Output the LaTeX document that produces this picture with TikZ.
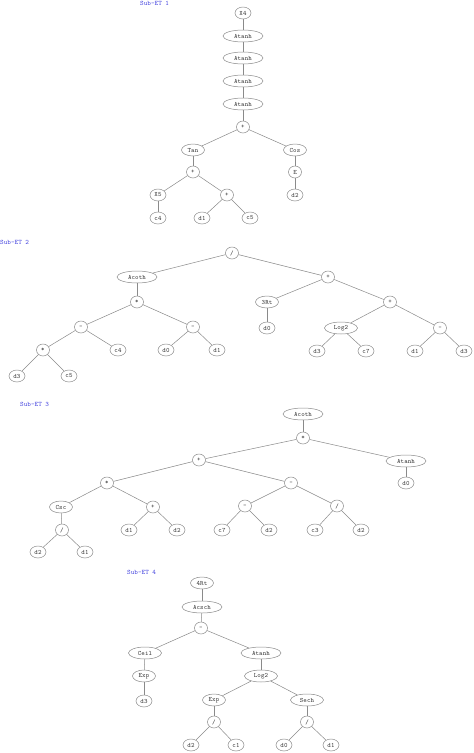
\documentclass[tikz,border=0pt]{standalone}
\usepackage{fontspec}
\usetikzlibrary{shapes.geometric}
\definecolor{edgec}{HTML}{8A8A8A}
\definecolor{txtc}{HTML}{3A3A3A}
\definecolor{labc}{HTML}{4A4AE0}
\tikzset{
  nd/.style={ellipse, draw=edgec, line width=0.5pt, inner sep=0pt, minimum height=12pt, text=txtc,
             font=\ttfamily\fontsize{6.6}{7}\selectfont},
  n1/.style={nd, minimum width=13pt},
  n2/.style={nd, minimum width=16pt},
  n3/.style={nd, minimum width=23pt},
  n4/.style={nd, minimum width=33pt},
  n5/.style={nd, minimum width=40pt},
  lab/.style={text=labc, font=\ttfamily\fontsize{6.8}{7}\selectfont, inner sep=0pt, anchor=west},
  ed/.style={draw=edgec, line width=0.5pt}
}
\begin{document}
\begin{tikzpicture}[x=1pt,y=-1pt]
\useasboundingbox[fill=white] (0,0) rectangle (474,753);
% ---------- Sub-ET 1
\node[lab] (l1) at (140,3) {Sub-ET 1};
\node[n2] (a0) at (243,13) {X4};
\node[n5] (a1) at (243,36) {Atanh};
\node[n5] (a2) at (243,58) {Atanh};
\node[n5] (a3) at (243,81) {Atanh};
\node[n5] (a4) at (243,104) {Atanh};
\node[n1] (a5) at (243,127) {+};
\node[n3] (a6) at (193,150) {Tan};
\node[n3] (a7) at (295,150) {Cos};
\node[n1] (a8) at (193,172) {+};
\node[n1] (a9) at (295,172) {E};
\node[n2] (a10) at (158,195) {X5};
\node[n1] (a11) at (227,195) {+};
\node[n2] (a12) at (295,195) {d2};
\node[n2] (a13) at (158,218) {c4};
\node[n2] (a14) at (202,218) {d1};
\node[n2] (a15) at (250,218) {c5};
\foreach \u/\v in {a0/a1,a1/a2,a2/a3,a3/a4,a4/a5,a5/a6,a5/a7,a6/a8,a8/a10,a8/a11,a10/a13,a11/a14,a11/a15,a7/a9,a9/a12}
  \draw[ed] (\u) -- (\v);
% ---------- Sub-ET 2
\node[lab] (l2) at (0,242) {Sub-ET 2};
\node[n1] (b0) at (232,253) {/};
\node[n5] (b1) at (137,277) {Acoth};
\node[n1] (b2) at (137,302) {*};
\node[n1] (b3) at (81,327) {-};
\node[n1] (b4) at (193,327) {-};
\node[n1] (b5) at (43,350) {*};
\node[n2] (b6) at (118,350) {c4};
\node[n2] (b7) at (166,350) {d0};
\node[n2] (b8) at (217,350) {d1};
\node[n2] (b9) at (17,376) {d3};
\node[n2] (b10) at (69,376) {c5};
\node[n1] (b11) at (328,277) {+};
\node[n3] (b12) at (267,302) {3Rt};
\node[n1] (b13) at (390,302) {+};
\node[n2] (b14) at (267,328) {d0};
\node[n4] (b15) at (341,328) {Log2};
\node[n1] (b16) at (440,328) {-};
\node[n2] (b17) at (317,351) {d3};
\node[n2] (b18) at (366,351) {c7};
\node[n2] (b19) at (415,351) {d1};
\node[n2] (b20) at (464,351) {d3};
\foreach \u/\v in {b0/b1,b0/b11,b1/b2,b2/b3,b2/b4,b3/b5,b3/b6,b5/b9,b5/b10,b4/b7,b4/b8,b11/b12,b11/b13,b12/b14,b13/b15,b13/b16,b15/b17,b15/b18,b16/b19,b16/b20}
  \draw[ed] (\u) -- (\v);
% ---------- Sub-ET 3
\node[lab] (l3) at (20,404) {Sub-ET 3};
\node[n5] (c0) at (303,414) {Acoth};
\node[n1] (c1) at (303,438) {*};
\node[n1] (c2) at (199,460) {+};
\node[n5] (c3) at (406,461) {Atanh};
\node[n1] (c4) at (107,483) {*};
\node[n1] (c5) at (291,483) {-};
\node[n2] (c6) at (406,483) {d0};
\node[n3] (c7) at (61,507) {Csc};
\node[n1] (c8) at (153,507) {+};
\node[n1] (c9) at (245,506) {-};
\node[n1] (c10) at (337,506) {/};
\node[n1] (c11) at (62,530) {/};
\node[n2] (c12) at (129,530) {d1};
\node[n2] (c13) at (177,530) {d2};
\node[n2] (c14) at (222,530) {c7};
\node[n2] (c15) at (269,530) {d2};
\node[n2] (c16) at (315,530) {c3};
\node[n2] (c17) at (361,530) {d2};
\node[n2] (c18) at (38,552) {d2};
\node[n2] (c19) at (85,552) {d1};
\foreach \u/\v in {c0/c1,c1/c2,c1/c3,c3/c6,c2/c4,c2/c5,c4/c7,c4/c8,c7/c11,c11/c18,c11/c19,c8/c12,c8/c13,c5/c9,c5/c10,c9/c14,c9/c15,c10/c16,c10/c17}
  \draw[ed] (\u) -- (\v);
% ---------- Sub-ET 4
\node[lab] (l4) at (127,572) {Sub-ET 4};
\node[n3] (d0) at (202,583) {4Rt};
\node[n5] (d1) at (202,607) {Acsch};
\node[n1] (d2) at (201,628) {-};
\node[n4] (d3) at (145,653) {Ceil};
\node[n5] (d4) at (261,653) {Atanh};
\node[n3] (d5) at (144,676) {Exp};
\node[n4] (d6) at (261,676) {Log2};
\node[n2] (d7) at (144,701) {d3};
\node[n3] (d8) at (214,700) {Exp};
\node[n4] (d9) at (307,700) {Sech};
\node[n1] (d10) at (214,722) {/};
\node[n1] (d11) at (307,722) {/};
\node[n2] (d12) at (191,745) {d2};
\node[n2] (d13) at (236,745) {c1};
\node[n2] (d14) at (284,745) {d0};
\node[n2] (d15) at (331,745) {d1};
\foreach \u/\v in {d0/d1,d1/d2,d2/d3,d2/d4,d3/d5,d5/d7,d4/d6,d6/d8,d6/d9,d8/d10,d9/d11,d10/d12,d10/d13,d11/d14,d11/d15}
  \draw[ed] (\u) -- (\v);
\end{tikzpicture}
\end{document}
